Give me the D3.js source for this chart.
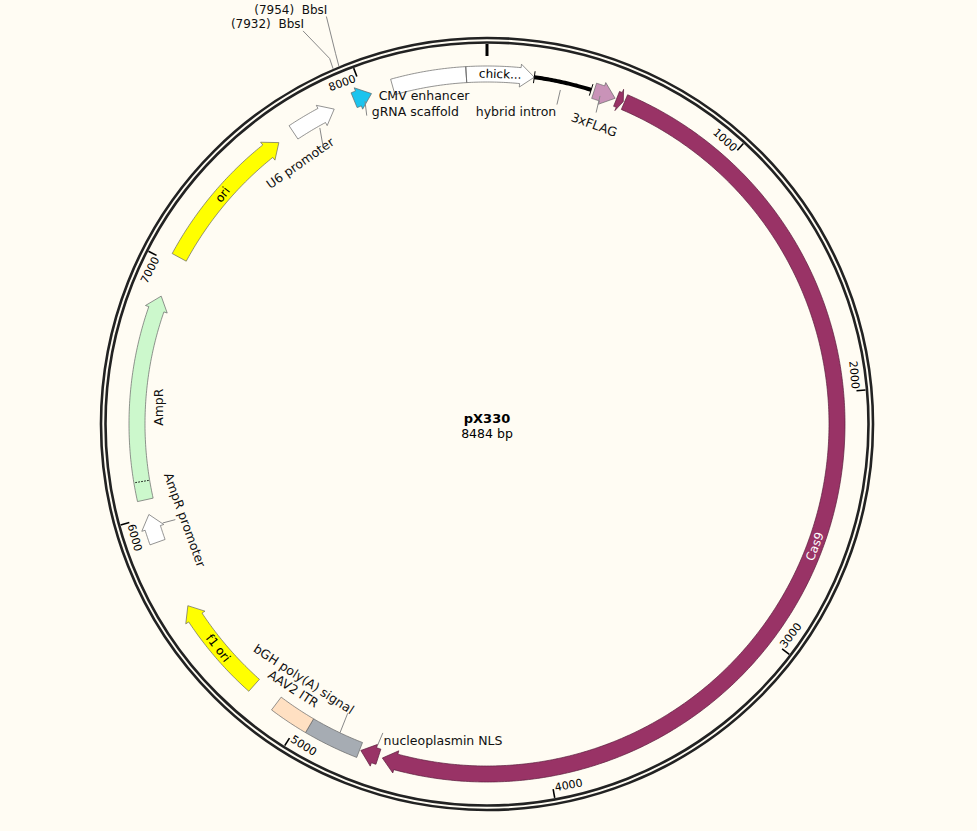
<!DOCTYPE html>
<html><head><meta charset="utf-8">
<script src="https://cdn.jsdelivr.net/npm/d3@7"></script>
<style>body{margin:0;background:#fffcf3}svg{display:block}text{font-family:"DejaVu Sans",Verdana,sans-serif}</style>
</head><body><svg id="c" width="977" height="831"></svg>
<script>
const plasmidName = "pX330";
const plasmidLength = 8484;
const tickValues = [1000,2000,3000,4000,5000,6000,7000,8000];
// features: name, start, end, kind (arrow/box/line), fill
const featureNames  = ["CMV enhancer","chicken β-actin promoter","hybrid intron","3xFLAG","SV40 NLS","Cas9","nucleoplasmin NLS","bGH poly(A) signal","AAV2 ITR","f1 ori","AmpR promoter","AmpR","ori","U6 promoter","gRNA scaffold"];
const featureStarts = [8116,8404,183,420,512,545,4668,4745,4960,5225,5898,6068,7033,7693,7958];
const featureEnds   = [8404,8667,408,506,540,4652,4740,4960,5114,5626,6010,6868,7624,7874,8030];
const featureKinds  = ["box","arrow","line","arrow","arrow","arrow","arrow","box","box","arrow","arrow","arrow","arrow","arrow","arrow"];
const featureFills  = ["#ffffff","#ffffff","#000000","#c993b8","#993366","#993366","#993366","#a6acb3","#ffe0c2","#ffff00","#ffffff","#ccf8cc","#ffff00","#ffffff","#1cc4ee"];
// restriction sites
const siteNames = ["BbsI","BbsI"];
const sitePositions = [7954,7932];
// external labels: text, bp, radius, rotation, leader [bp1,r1,bp2,r2]
const labelTexts = ["CMV enhancer","gRNA scaffold","hybrid intron","3xFLAG","U6 promoter","AmpR promoter","bGH poly(A) signal","AAV2 ITR","nucleoplasmin NLS","AmpR"];
const labelBps   = [8228,8180,125,464,7645,5948,5083,5095,4428,6432];
const labelRadii = [334,321,314,318,321,317,314,328,320,329];
const labelRots  = [0,0,0,20,-35,70,33,33,0,-90];
const leaders = [null,[7982,331,7996,345],[291,327,292,342],[455,330,448,347],[7763,322,7790,340],[5961,326,5963,339],[4848,321,4842,342],null,[4681,326,4685,339],null];
// inner labels: text, bp, rotation, color
const innerTexts = ["chick...","ori","f1 ori","Cas9"];
const innerBps   = [8535,7328,5425,2604];
const innerRots  = [2,-52,52,-69];
const innerColors= ["#000","#000","#000","#ffffff"];

const svg = d3.select("#c");
const cx = 487, cy = 424;
const ang = d3.scaleLinear().domain([0, plasmidLength]).range([0, 2*Math.PI]);
const R1 = 342, R2 = 358, RM = (R1+R2)/2;
const pt = (bp, r) => { const a = ang(bp); return [cx + r*Math.sin(a), cy - r*Math.cos(a)]; };

// ring
svg.append("circle").attr("cx",cx).attr("cy",cy).attr("r",386).attr("fill","none").attr("stroke","#222").attr("stroke-width",2.6);
svg.append("circle").attr("cx",cx).attr("cy",cy).attr("r",381.5).attr("fill","none").attr("stroke","#222").attr("stroke-width",2.6);
// ticks
const tk = svg.append("g");
tk.append("line").attr("x1",pt(0,380)[0]).attr("y1",pt(0,380)[1]).attr("x2",pt(0,368)[0]).attr("y2",pt(0,368)[1]).attr("stroke","#000").attr("stroke-width",3);
tickValues.forEach(v=>{
  const p1=pt(v,380), p2=pt(v,371);
  tk.append("line").attr("x1",p1[0]).attr("y1",p1[1]).attr("x2",p2[0]).attr("y2",p2[1]).attr("stroke","#000").attr("stroke-width",1.6);
  const deg = ang(v)*180/Math.PI;
  const top = (deg<=90 || deg>=270);
  const rot = top ? (deg>180?deg-360:deg) : deg-180;
  const off = 2/370*plasmidLength/(2*Math.PI);
  const p = pt(v - off, 370);
  tk.append("text").attr("transform",`translate(${p[0]},${p[1]}) rotate(${rot})`)
    .attr("text-anchor", top?"end":"start").attr("dominant-baseline","central").attr("font-size",11).text(v);
});

// features
const fg = svg.append("g");
function arcPts(a0,a1,r,n){const out=[];for(let i=0;i<=n;i++){const a=a0+(a1-a0)*i/n;out.push([cx+r*Math.sin(a),cy-r*Math.cos(a)]);}return out;}
featureNames.forEach((name,i)=>{
  let s=featureStarts[i], e=featureEnds[i]; if(e<s) e+=plasmidLength;
  const a0=ang(s), a1=ang(e);
  const kind=featureKinds[i], fill=featureFills[i];
  if(kind==="line"){
    const pts=arcPts(a0,a1,RM,30);
    fg.append("path").attr("d",d3.line()(pts)).attr("fill","none").attr("stroke","#000").attr("stroke-width",4);
    [s,e].forEach(b=>{const q1=pt(b,RM-6),q2=pt(b,RM+6);fg.append("line").attr("x1",q1[0]).attr("y1",q1[1]).attr("x2",q2[0]).attr("y2",q2[1]).attr("stroke","#000").attr("stroke-width",1);});
    return;
  }
  const n=Math.max(4,Math.ceil((a1-a0)*RM/3));
  let pts;
  if(kind==="box"){
    pts=arcPts(a0,a1,R2,n).concat(arcPts(a1,a0,R1,n));
  } else {
    let h=14/RM; const ex=3.5;
    if(a1-a0<h*1.1) h=(a1-a0)*0.6;
    const ab=a1-h;
    pts=arcPts(a0,ab,R2,n).concat(arcPts(ab,ab,R2+ex,1).slice(1),[pt(e,RM)],arcPts(ab,ab,R1-ex,1).slice(1),arcPts(ab,a0,R1,n));
  }
  fg.append("path").attr("d",d3.line()(pts)+"Z").attr("fill",fill).attr("stroke",fill==="#993366"?"#5a1d3c":"#666").attr("stroke-width",0.7);
});
// AmpR signal peptide boundary
{const b=6140,q1=pt(b,R1+1),q2=pt(b,R2-1);fg.append("line").attr("x1",q1[0]).attr("y1",q1[1]).attr("x2",q2[0]).attr("y2",q2[1]).attr("stroke","#000").attr("stroke-dasharray","1.5,1.5").attr("stroke-width",1);}
// CMV/chick divider
{const b=8404,q1=pt(b,R1),q2=pt(b,R2);fg.append("line").attr("x1",q1[0]).attr("y1",q1[1]).attr("x2",q2[0]).attr("y2",q2[1]).attr("stroke","#666").attr("stroke-width",0.7);}

// inner labels
innerTexts.forEach((t,i)=>{const p=pt(innerBps[i],RM);
  fg.append("text").attr("transform",`translate(${p[0]},${p[1]}) rotate(${innerRots[i]})`).attr("text-anchor","middle").attr("dominant-baseline","central").attr("font-size",12).attr("fill",innerColors[i]).text(t);});

// external labels
const lg = svg.append("g");
labelTexts.forEach((t,i)=>{const p=pt(labelBps[i],labelRadii[i]);
  lg.append("text").attr("transform",`translate(${p[0]},${p[1]}) rotate(${labelRots[i]})`).attr("text-anchor","middle").attr("dominant-baseline","central").attr("font-size",12.5).attr("fill","#111").text(t);
  const L=leaders[i]; if(L){const q1=pt(L[0],L[1]),q2=pt(L[2],L[3]);lg.append("line").attr("x1",q1[0]).attr("y1",q1[1]).attr("x2",q2[0]).attr("y2",q2[1]).attr("stroke","#888").attr("stroke-width",1);}
});
// sites
const siteTops=[[7977,438],[7893,434]];
const siteKinks=[[7960,400],[7935,398]];
siteNames.forEach((nm,i)=>{
  const p0=pt(sitePositions[i],387), p1=pt(siteKinks[i][0],siteKinks[i][1]), p2=pt(siteTops[i][0],siteTops[i][1]);
  lg.append("path").attr("d",d3.line()([p0,p1,p2])).attr("fill","none").attr("stroke","#888").attr("stroke-width",1);
  lg.append("text").attr("x",p2[0]+1).attr("y",p2[1]-3).attr("text-anchor","end").attr("font-size",12).attr("fill","#111")
    .text(`(${sitePositions[i]})\u00a0\u00a0${nm}`);
});

// center
svg.append("text").attr("x",cx).attr("y",cy-1).attr("text-anchor","middle").attr("font-size",13).attr("font-weight","bold").text(plasmidName);
svg.append("text").attr("x",cx).attr("y",cy+14).attr("text-anchor","middle").attr("font-size",12.5).text(plasmidLength+" bp");
</script></body></html>
